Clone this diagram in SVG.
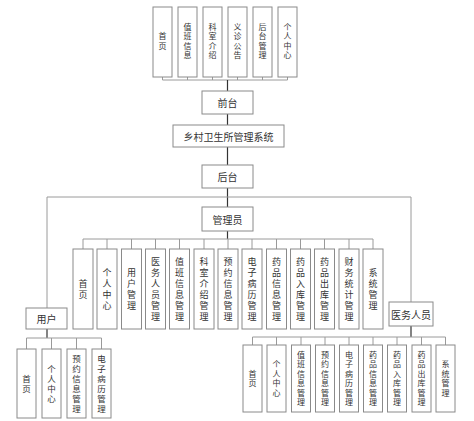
<svg xmlns="http://www.w3.org/2000/svg" width="474" height="421" viewBox="0 0 474 421">
<style>
.b{fill:#fff;stroke:#8a8a8a;stroke-width:1}
.c{fill:none;stroke:#9a9a9a;stroke-width:1}
.k{fill:none;stroke:#333;stroke-width:1.2}
text{font-family:"Noto Sans CJK SC","Noto Sans",sans-serif;fill:#333;text-anchor:middle;dominant-baseline:central}
.v{writing-mode:vertical-rl;text-orientation:upright}
.t1{font-size:8px;letter-spacing:1.5px}
.t2{font-size:9px;letter-spacing:2px}
.t3{font-size:8px;letter-spacing:1.5px}
.t4{font-size:8.5px;letter-spacing:1.5px}
.h{font-size:10px}
</style>
<rect width="474" height="421" fill="#fff"/>
<g id="connectors">
<path class="c" d="M162.5 77V80H287.5V77M187.5 77V80M212.5 77V80M237.5 77V80M262.5 77V80"/>
<path class="k" d="M227.5 80V91M227.5 114V125M227.5 147V165M227.5 188V207M227.5 231V239"/>
<path class="c" d="M47 308V197H411V302"/>
<path class="c" d="M83 249V239H373V249M107 239V249M131.5 239V249M155.5 239V249M179.5 239V249M204 239V249M228 239V249M252 239V249M276.5 239V249M300.5 239V249M324.5 239V249M349 239V249"/>
<path class="k" d="M47 329V338M411 326V337"/>
<path class="c" d="M26.5 349V338H101.5V349M51.5 338V349M76.5 338V349"/>
<path class="c" d="M252.5 345V337H445.5V345M276.5 337V345M301 337V345M325 337V345M349 337V345M373 337V345M397 337V345M421.5 337V345"/>
</g>
<g id="n-shouye-top"><rect class="b" x="153" y="7" width="19" height="70"/><text class="v t1" x="162.5" y="41.75">首页</text></g>
<g id="n-zhiban-top"><rect class="b" x="178" y="7" width="19" height="70"/><text class="v t1" x="187.5" y="41.75">值班信息</text></g>
<g id="n-keshi-top"><rect class="b" x="203" y="7" width="19" height="70"/><text class="v t1" x="212.5" y="41.75">科室介绍</text></g>
<g id="n-yizhen-top"><rect class="b" x="228" y="7" width="19" height="70"/><text class="v t1" x="237.5" y="41.75">义诊公告</text></g>
<g id="n-houtai-top"><rect class="b" x="253" y="7" width="19" height="70"/><text class="v t1" x="262.5" y="41.75">后台管理</text></g>
<g id="n-geren-top"><rect class="b" x="278" y="7" width="19" height="70"/><text class="v t1" x="287.5" y="41.75">个人中心</text></g>
<g id="n-qiantai"><rect class="b" x="202" y="91" width="51" height="23"/><text class="h" x="227.5" y="102.5">前台</text></g>
<g id="n-system"><rect class="b" x="173" y="125" width="111" height="22"/><text class="h" x="228.5" y="136">乡村卫生所管理系统</text></g>
<g id="n-houtai"><rect class="b" x="202" y="165" width="51" height="23"/><text class="h" x="227.5" y="176.5">后台</text></g>
<g id="n-admin"><rect class="b" x="202" y="207" width="51" height="24"/><text class="h" x="227.5" y="219">管理员</text></g>
<g id="m-shouye"><rect class="b" x="73" y="249" width="20" height="80"/><text class="v t2" x="83" y="290">首页</text></g>
<g id="m-geren"><rect class="b" x="97" y="249" width="20" height="80"/><text class="v t2" x="107" y="290">个人中心</text></g>
<g id="m-yonghu"><rect class="b" x="121.5" y="249" width="20" height="80"/><text class="v t2" x="131.5" y="290">用户管理</text></g>
<g id="m-yiwu"><rect class="b" x="145.5" y="249" width="20" height="80"/><text class="v t2" x="155.5" y="290">医务人员管理</text></g>
<g id="m-zhiban"><rect class="b" x="169.5" y="249" width="20" height="80"/><text class="v t2" x="179.5" y="290">值班信息管理</text></g>
<g id="m-keshi"><rect class="b" x="194" y="249" width="20" height="80"/><text class="v t2" x="204" y="290">科室介绍管理</text></g>
<g id="m-yuyue"><rect class="b" x="218" y="249" width="20" height="80"/><text class="v t2" x="228" y="290">预约信息管理</text></g>
<g id="m-dianzi"><rect class="b" x="242" y="249" width="20" height="80"/><text class="v t2" x="252" y="290">电子病历管理</text></g>
<g id="m-yaoxinxi"><rect class="b" x="266.5" y="249" width="20" height="80"/><text class="v t2" x="276.5" y="290">药品信息管理</text></g>
<g id="m-yaoruku"><rect class="b" x="290.5" y="249" width="20" height="80"/><text class="v t2" x="300.5" y="290">药品入库管理</text></g>
<g id="m-yaochuku"><rect class="b" x="314.5" y="249" width="20" height="80"/><text class="v t2" x="324.5" y="290">药品出库管理</text></g>
<g id="m-caiwu"><rect class="b" x="339" y="249" width="20" height="80"/><text class="v t2" x="349" y="290">财务统计管理</text></g>
<g id="m-xitong"><rect class="b" x="363" y="249" width="20" height="80"/><text class="v t2" x="373" y="290">系统管理</text></g>
<g id="n-user"><rect class="b" x="26" y="308" width="41" height="21"/><text class="h" x="46.5" y="318.5">用户</text></g>
<g id="u-shouye"><rect class="b" x="17" y="349" width="19" height="69"/><text class="v t4" x="26.5" y="384.25">首页</text></g>
<g id="u-geren"><rect class="b" x="42" y="349" width="19" height="69"/><text class="v t4" x="51.5" y="384.25">个人中心</text></g>
<g id="u-yuyue"><rect class="b" x="67" y="349" width="19" height="69"/><text class="v t4" x="76.5" y="384.25">预约信息管理</text></g>
<g id="u-dianzi"><rect class="b" x="92" y="349" width="19" height="69"/><text class="v t4" x="101.5" y="384.25">电子病历管理</text></g>
<g id="n-doctor"><rect class="b" x="389" y="302" width="44" height="24"/><text class="h" x="411" y="314">医务人员</text></g>
<g id="d-shouye"><rect class="b" x="243" y="345" width="19" height="67"/><text class="v t3" x="252.5" y="379.25">首页</text></g>
<g id="d-geren"><rect class="b" x="267" y="345" width="19" height="67"/><text class="v t3" x="276.5" y="379.25">个人中心</text></g>
<g id="d-zhiban"><rect class="b" x="291.5" y="345" width="19" height="67"/><text class="v t3" x="301" y="379.25">值班信息管理</text></g>
<g id="d-yuyue"><rect class="b" x="315.5" y="345" width="19" height="67"/><text class="v t3" x="325" y="379.25">预约信息管理</text></g>
<g id="d-dianzi"><rect class="b" x="339.5" y="345" width="19" height="67"/><text class="v t3" x="349" y="379.25">电子病历管理</text></g>
<g id="d-yaoxinxi"><rect class="b" x="363.5" y="345" width="19" height="67"/><text class="v t3" x="373" y="379.25">药品信息管理</text></g>
<g id="d-yaoruku"><rect class="b" x="387.5" y="345" width="19" height="67"/><text class="v t3" x="397" y="379.25">药品入库管理</text></g>
<g id="d-yaochuku"><rect class="b" x="412" y="345" width="19" height="67"/><text class="v t3" x="421.5" y="379.25">药品出库管理</text></g>
<g id="d-xitong"><rect class="b" x="436" y="345" width="19" height="67"/><text class="v t3" x="445.5" y="379.25">系统管理</text></g>
</svg>
